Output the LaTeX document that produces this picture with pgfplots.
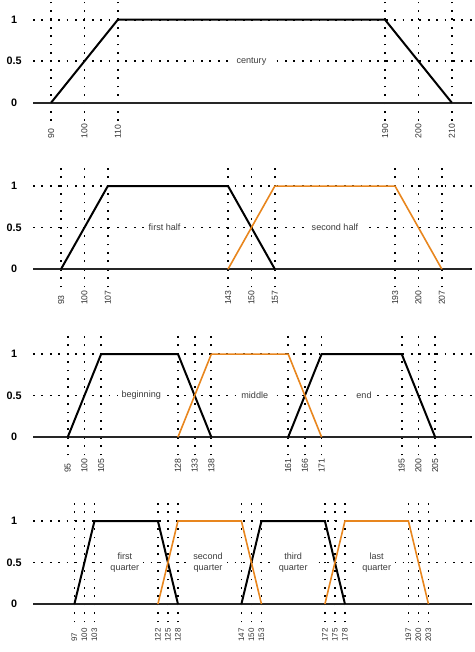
\documentclass[border=0pt]{standalone}
\usepackage{pgfplots}
\pgfplotsset{compat=1.18}
\usepackage{fontspec}
\setmainfont{Liberation Sans}
\definecolor{myorange}{RGB}{232,134,30}
\definecolor{labgray}{RGB}{60,60,60}
\pgfplotsset{
 panel/.style={
  scale only axis, width=330.4pt, height=91.5pt,
  xmin=84.6, xmax=216.5, ymin=-0.22, ymax=1.25,
  axis line style={draw=none}, major tick length=0pt,
  ytick={0,0.5,1}, yticklabels={0,0.5,1},
  grid=major, grid style={black, line width=1.3pt, dash pattern=on 1.3pt off 5pt},
  xticklabel style={font=\fontsize{6.5}{7}\selectfont, text=black!80, rotate=90, anchor=east, text width=13pt, align=left, inner sep=0pt},
  yticklabel style={font=\bfseries\fontsize{8.1}{9}\selectfont, anchor=east, text width=20pt, align=center, inner sep=0pt, xshift=-4pt},
  clip=false, anchor=south west,
 },
 blk/.style={black, line width=1.5pt, no marks},
 org/.style={myorange, line width=1.2pt, no marks},
 base/.style={black!85, line width=1.5pt, no marks},
}
\tikzset{lab/.style={fill=white, inner sep=3pt, text=labgray, font=\fontsize{6.8}{8}\selectfont, align=center}}
\begin{document}
\begin{tikzpicture}
\useasboundingbox (0,0) rectangle (355.5pt,489pt);
% panel 1
\begin{axis}[panel, at={(24.75pt,398.25pt)},
  xtick={90,100,110,190,200,210}, xticklabels={90,100,110,190,200,210}]
\addplot[base] coordinates {(84.6,0) (215.5,0)};
\addplot[blk] coordinates {(90,0) (110,1) (190,1) (210,0)};
\node[lab] at (axis cs:150,0.5) {century};
\end{axis}
% panel 2
\begin{axis}[panel, at={(24.75pt,273.5pt)},
  xtick={93,100,107,143,150,157,193,200,207}, xticklabels={93,100,107,143,150,157,193,200,207}]
\addplot[base] coordinates {(84.6,0) (215.5,0)};
\addplot[blk] coordinates {(93,0) (107,1) (143,1) (157,0)};
\addplot[org] coordinates {(143,0) (157,1) (193,1) (207,0)};
\node[lab] at (axis cs:124,0.5) {first half};
\node[lab] at (axis cs:175,0.5) {second half};
\end{axis}
% panel 3
\begin{axis}[panel, at={(24.75pt,147.5pt)},
  xtick={95,100,105,128,133,138,161,166,171,195,200,205}, xticklabels={95,100,105,128,133,138,161,166,171,195,200,205}]
\addplot[base] coordinates {(84.6,0) (215.5,0)};
\addplot[blk] coordinates {(95,0) (105,1) (128,1) (138,0)};
\addplot[blk] coordinates {(161,0) (171,1) (195,1) (205,0)};
\addplot[org] coordinates {(128,0) (138,1) (161,1) (171,0)};
\node[lab] at (axis cs:117,0.5) {beginning};
\node[lab] at (axis cs:151,0.5) {middle};
\node[lab] at (axis cs:183.7,0.5) {end};
\end{axis}
% panel 4
\begin{axis}[panel, at={(24.75pt,22.3pt)},
  xtick={97,100,103,122,125,128,147,150,153,172,175,178,197,200,203}, xticklabels={97,100,103,122,125,128,147,150,153,172,175,178,197,200,203},
  xticklabel style={font=\fontsize{6}{6.5}\selectfont, text width=14.3pt}]
\addplot[base] coordinates {(84.6,0) (215.5,0)};
\addplot[blk] coordinates {(97,0) (103,1) (122,1) (128,0)};
\addplot[blk] coordinates {(147,0) (153,1) (172,1) (178,0)};
\addplot[org] coordinates {(122,0) (128,1) (147,1) (153,0)};
\addplot[org] coordinates {(172,0) (178,1) (197,1) (203,0)};
\node[lab] at (axis cs:112.1,0.5) {first\\quarter};
\node[lab] at (axis cs:137,0.5) {second\\quarter};
\node[lab] at (axis cs:162.5,0.5) {third\\quarter};
\node[lab] at (axis cs:187.5,0.5) {last\\quarter};
\end{axis}
\end{tikzpicture}
\end{document}
